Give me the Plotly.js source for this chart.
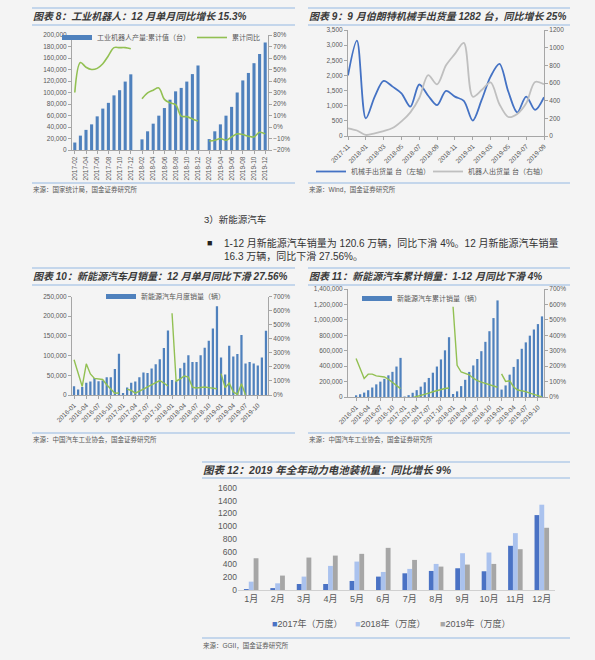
<!DOCTYPE html>
<html><head><meta charset="utf-8">
<script src="https://cdn.plot.ly/plotly-3.0.1.min.js"></script>
<style>html,body{margin:0;padding:0;background:#f4f4f4;}#chart{width:595px;height:660px;}</style>
</head><body><div id="chart"></div>
<script>
// ---------- Chart 8: industrial robots ----------
const robotMonths = ['2017-02','2017-03','2017-04','2017-05','2017-06','2017-07','2017-08','2017-09','2017-10','2017-11','2017-12',
  '2018-01','2018-02','2018-03','2018-04','2018-05','2018-06','2018-07','2018-08','2018-09','2018-10','2018-11','2018-12',
  '2019-01','2019-02','2019-03','2019-04','2019-05','2019-06','2019-07','2019-08','2019-09','2019-10','2019-11','2019-12'];
const robotCum = [13000,25000,35000,44600,58500,72000,82000,95000,104000,119000,131600,
  null,18500,32500,45800,59700,73000,87500,102000,108000,119000,132000,147000,
  null,19000,32500,44600,59700,75000,100000,121000,134000,151000,167000,187000];
const robotYoY = [30,56,52,50,51,55,62,69,69,69,68,
  null,24.6,29.6,32,34,24,21,19.5,9.5,9,7,5.2,
  null,-12.2,-11.5,-10,-11.5,-8.6,-6,-6.6,-8,-8.6,-4.6,-6];
const robotTicks = ['2017-02','2017-04','2017-06','2017-08','2017-10','2017-12','2018-02','2018-04','2018-06','2018-08','2018-10','2018-12','2019-02','2019-04','2019-06','2019-08','2019-10','2019-12'];

// ---------- Chart 9: Borunte ----------
const bltMonths = ['2017-11','2017-12','2018-01','2018-02','2018-03','2018-04','2018-05','2018-06','2018-07','2018-08','2018-09','2018-10','2018-11','2018-12',
  '2019-01','2019-02','2019-03','2019-04','2019-05','2019-06','2019-07','2019-08','2019-09'];
const bltArm = [2000,3150,580,1300,1820,1630,1410,970,1700,1330,1020,1490,1300,1160,510,1190,1960,2380,1460,780,1300,860,1282];
const bltRobot = [87,62,12,30,55,90,165,268,430,690,585,800,930,1055,445,520,607,360,215,250,370,612,585];
const bltTicks = ['2017-11','2018-01','2018-03','2018-05','2018-07','2018-09','2018-11','2019-01','2019-03','2019-05','2019-07','2019-09'];

// ---------- Chart 10 / 11: NEV ----------
const nevMonths = ['2016-01','2016-02','2016-03','2016-04','2016-05','2016-06','2016-07','2016-08','2016-09','2016-10','2016-11','2016-12',
  '2017-01','2017-02','2017-03','2017-04','2017-05','2017-06','2017-07','2017-08','2017-09','2017-10','2017-11','2017-12',
  '2018-01','2018-02','2018-03','2018-04','2018-05','2018-06','2018-07','2018-08','2018-09','2018-10','2018-11','2018-12',
  '2019-01','2019-02','2019-03','2019-04','2019-05','2019-06','2019-07','2019-08','2019-09','2019-10','2019-11','2019-12'];
const nevTicks = ['2016-01','2016-04','2016-07','2016-10','2017-01','2017-04','2017-07','2017-10','2018-01','2018-04','2018-07','2018-10','2019-01','2019-04','2019-07','2019-10'];
const nevMonthly = [22000,14000,20000,31000,34000,43000,35000,37000,45000,45000,66000,105000,
  5000,19000,31000,34000,45000,57000,56000,67000,78000,91000,119000,164000,
  38000,35000,68000,82000,101000,84000,84000,101000,120000,138000,169000,225000,
  95000,52000,125000,98000,104000,152000,80000,84000,80000,75000,95000,163000];
const nevMonthlyYoY2016 = [250,156,61,222,150,118,114,110,73,40,12,14];
const nevMonthlyYoY2017 = [null,42,32,13,30,42,57,72,83,103,85,64];
const nevMonthlyYoY2018 = [581,98,115,135,127,55,50,52,57,52,46,44];
const nevMonthlyYoY2019 = [152,52,85,22,4,80,0,null,null,null,null,null];

const nevCumMonths = nevMonths.slice(0,47);
const nevCum = [22000,36000,57000,88000,123000,164000,199000,235000,281000,326000,395000,507000,
  6000,24000,55000,89000,134000,191000,247000,315000,395000,487000,605000,775000,
  39000,73000,141000,223000,325000,409000,493000,594000,715000,853000,1023000,1252000,
  96000,150000,290000,390000,490000,625000,708000,795000,875000,945000,1045000];
const nevCumYoY2016 = [250,185,120,148,148,137,135,130,115,93,76,54];
const nevCumYoY2017 = [-73,-33,-4,2,9,17,25,34,42,50,55,58];
const nevCumYoY2018 = [585,205,162,154,144,122,106,96,88,81,72,63];
const nevCumYoY2019 = [150,101,105,65,45,40,35,25,17,8,1];

// ---------- Chart 12: battery installs ----------
const batMonths = ['1月','2月','3月','4月','5月','6月','7月','8月','9月','10月','11月','12月'];
const batSeries = ['2017年（万度）','2018年（万度）','2019年（万度）'];
const bat2017 = [15,30,94,94,142,210,262,299,341,294,693,1175];
const bat2018 = [131,105,210,378,446,283,331,409,577,588,892,1338];
const bat2019 = [498,226,509,540,567,661,472,367,399,409,640,976];

// ---------- layout helpers ----------
const W = 595, H = 660;
const fx = p => p / W, fy = p => 1 - p / H;
const FONT = 'Liberation Sans, Noto Sans CJK SC, sans-serif';
const BLUE = '#4f81bd', GREEN = '#92c052', TXT = '#595959', AX = '#a6a6a6';
const BAT_COLORS = ['#4a72c4', '#aac2ee', '#a6a6a6'];
const tf = {size: 6.5, color: TXT, family: FONT};
function ax(extra) {
  return Object.assign({showgrid:false, zeroline:false, showline:true, linecolor:AX, linewidth:1,
    ticks:'outside', ticklen:3, tickcolor:AX, tickfont:tf, automargin:false, fixedrange:true}, extra);
}
// legend-only entry (draws no mark) so the legend glyph is a thick bar like the reference
function legendBar(name, legend, xa, ya) {
  return {type:'scatter', mode:'lines', x:[null], y:[null], xaxis:xa, yaxis:ya, line:{color:BLUE, width:5}, name:name, legend:legend, hoverinfo:'skip'};
}

const traces = [
  // chart 8
  {type:'bar', x:robotMonths, y:robotCum, xaxis:'x', yaxis:'y', marker:{color:BLUE}, name:'工业机器人产量:累计值（台）', showlegend:false},
  legendBar('工业机器人产量:累计值（台）', 'legend', 'x', 'y'),
  {type:'scatter', mode:'lines', x:robotMonths, y:robotYoY, xaxis:'x', yaxis:'y2', line:{color:GREEN, width:1.6, shape:'spline'}, connectgaps:false, name:'累计同比', legend:'legend'},
  // chart 9
  {type:'scatter', mode:'lines', x:bltMonths, y:bltArm, xaxis:'x2', yaxis:'y3', line:{color:'#4472c4', width:1.8, shape:'spline', smoothing:0.9}, name:'机械手出货量 台（左轴）', legend:'legend2'},
  {type:'scatter', mode:'lines', x:bltMonths, y:bltRobot, xaxis:'x2', yaxis:'y4', line:{color:'#bfbfbf', width:1.8, shape:'spline', smoothing:0.9}, name:'机器人出货量 台（右轴）', legend:'legend2'},
  // chart 10
  {type:'bar', x:nevMonths, y:nevMonthly, xaxis:'x3', yaxis:'y5', marker:{color:BLUE}, name:'新能源汽车月度销量（辆）', showlegend:false},
  legendBar('新能源汽车月度销量（辆）', 'legend3', 'x3', 'y5'),
  {type:'scatter', mode:'lines', x:nevMonths.slice(0,12), y:nevMonthlyYoY2016, xaxis:'x3', yaxis:'y6', line:{color:GREEN, width:1.4}, showlegend:false},
  {type:'scatter', mode:'lines', x:nevMonths.slice(12,24), y:nevMonthlyYoY2017, xaxis:'x3', yaxis:'y6', line:{color:GREEN, width:1.4}, showlegend:false},
  {type:'scatter', mode:'lines', x:nevMonths.slice(24,36), y:nevMonthlyYoY2018, xaxis:'x3', yaxis:'y6', line:{color:GREEN, width:1.4}, showlegend:false},
  {type:'scatter', mode:'lines', x:nevMonths.slice(36,48), y:nevMonthlyYoY2019, xaxis:'x3', yaxis:'y6', line:{color:GREEN, width:1.4}, showlegend:false},
  // chart 11
  {type:'bar', x:nevCumMonths, y:nevCum, xaxis:'x4', yaxis:'y7', marker:{color:BLUE}, name:'新能源汽车累计销量（辆）', showlegend:false},
  legendBar('新能源汽车累计销量（辆）', 'legend4', 'x4', 'y7'),
  {type:'scatter', mode:'lines', x:nevCumMonths.slice(0,12), y:nevCumYoY2016, xaxis:'x4', yaxis:'y8', line:{color:GREEN, width:1.4}, showlegend:false},
  {type:'scatter', mode:'lines', x:nevCumMonths.slice(12,24), y:nevCumYoY2017, xaxis:'x4', yaxis:'y8', line:{color:GREEN, width:1.4}, showlegend:false},
  {type:'scatter', mode:'lines', x:nevCumMonths.slice(24,36), y:nevCumYoY2018, xaxis:'x4', yaxis:'y8', line:{color:GREEN, width:1.4}, showlegend:false},
  {type:'scatter', mode:'lines', x:nevCumMonths.slice(36,47), y:nevCumYoY2019, xaxis:'x4', yaxis:'y8', line:{color:GREEN, width:1.4}, showlegend:false},
  // chart 12
  {type:'bar', x:batMonths, y:bat2017, xaxis:'x5', yaxis:'y9', marker:{color:BAT_COLORS[0]}, name:batSeries[0], showlegend:false},
  {type:'bar', x:batMonths, y:bat2018, xaxis:'x5', yaxis:'y9', marker:{color:BAT_COLORS[1]}, name:batSeries[1], showlegend:false},
  {type:'bar', x:batMonths, y:bat2019, xaxis:'x5', yaxis:'y9', marker:{color:BAT_COLORS[2]}, name:batSeries[2], showlegend:false}
];

const titleLine = '#b4cde8';
const shapes = [];
function hline(x0, x1, y) { shapes.push({type:'line', xref:'paper', yref:'paper', x0:fx(x0), x1:fx(x1), y0:fy(y), y1:fy(y), line:{color:titleLine, width:1.6}}); }
[[32,295],[308,570]].forEach(([a,b]) => { hline(a,b,8); hline(a,b,25); hline(a,b,183); hline(a,b,268); hline(a,b,285); hline(a,b,433); });
hline(202,570,462); hline(202,570,478); hline(202,570,638);

const annotations = [];
function txt(x, y, text, size, color, extra) {
  annotations.push(Object.assign({xref:'paper', yref:'paper', x:fx(x), y:fy(y), xanchor:'left', yanchor:'middle', showarrow:false,
    text:text, font:{size:size, color:color, family:FONT}}, extra || {}));
}
const TT = '#3a3a3a';
txt(31, 16.5, '<b><i>图表 8：工业机器人：12 月单月同比增长 15.3%</i></b>', 10, TT);
txt(307, 16.5, '<b><i>图表 9：9 月伯朗特机械手出货量 1282 台，同比增长 25%</i></b>', 10, TT);
txt(31, 276.5, '<b><i>图表 10：新能源汽车月销量：12 月单月同比下滑 27.56%</i></b>', 10, TT);
txt(307, 276.5, '<b><i>图表 11：新能源汽车累计销量：1-12 月同比下滑 4%</i></b>', 10, TT);
txt(201, 470, '<b><i>图表 12：2019 年全年动力电池装机量：同比增长 9%</i></b>', 10.5, TT);
txt(31, 189.5, '来源：国家统计局，国金证券研究所', 6.5, TXT);
txt(307, 189.5, '来源：Wind，国金证券研究所', 6.5, TXT);
txt(31, 439.5, '来源：中国汽车工业协会，国金证券研究所', 6.5, TXT);
txt(307, 439.5, '来源：中国汽车工业协会，国金证券研究所', 6.5, TXT);
txt(201, 645, '来源：GGII，国金证券研究所', 6.5, TXT);
txt(202, 220, '3）新能源汽车', 9.5, '#333');
txt(205, 243, '■', 9, '#222');
txt(222, 243, '1-12 月新能源汽车销量为 120.6 万辆，同比下滑 4%。12 月新能源汽车销量', 10, '#333');
txt(222, 256, '16.3 万辆，同比下滑 27.56%。', 10, '#333');
// chart 12 legend (colour key for the three series)
[270, 353, 438].forEach((x, i) => txt(x, 623, '<span style="color:' + BAT_COLORS[i] + '">■</span>' + batSeries[i], 9, TXT));

const legBase = {orientation:'h', xanchor:'left', yanchor:'top', bgcolor:'rgba(0,0,0,0)', font:{size:7, color:TXT, family:FONT}, itemwidth:30, tracegroupgap:0};

const layout = {
  width:W, height:H, margin:{l:0, r:0, t:0, b:0},
  paper_bgcolor:'#f4f4f4', plot_bgcolor:'rgba(0,0,0,0)',
  font:{family:FONT}, barmode:'group', bargap:0.45, showlegend:true,
  // chart 8
  xaxis: ax({domain:[fx(72), fx(268)], anchor:'y', type:'category', range:[-0.5, robotMonths.length-0.5], tickvals:robotTicks, tickangle:-90}),
  yaxis: ax({domain:[fy(150), fy(35)], anchor:'x', range:[0,200000], dtick:20000, tickformat:','}),
  yaxis2: ax({overlaying:'y', side:'right', anchor:'x', range:[-20,80], dtick:10, ticksuffix:'%'}),
  // chart 9
  xaxis2: ax({domain:[fx(348), fx(544)], anchor:'y3', type:'category', range:[0, bltMonths.length-1], tickvals:bltTicks, tickangle:-45}),
  yaxis3: ax({domain:[fy(136), fy(30)], anchor:'x2', range:[0,3500], dtick:500, tickformat:','}),
  yaxis4: ax({overlaying:'y3', side:'right', anchor:'x2', range:[0,1200], dtick:200}),
  // chart 10
  xaxis3: ax({domain:[fx(72), fx(268)], anchor:'y5', type:'category', range:[-0.5, nevMonths.length-0.5], tickvals:nevTicks, tickangle:-45}),
  yaxis5: ax({domain:[fy(395), fy(296.5)], anchor:'x3', range:[0,250000], dtick:50000, tickformat:','}),
  yaxis6: ax({overlaying:'y5', side:'right', anchor:'x3', range:[0,700], dtick:100, ticksuffix:'%'}),
  // chart 11
  xaxis4: ax({domain:[fx(348), fx(544)], anchor:'y7', type:'category', range:[-2, nevCumMonths.length-0.5], tickvals:nevTicks, tickangle:-45}),
  yaxis7: ax({domain:[fy(397), fy(289)], anchor:'x4', range:[0,1400000], dtick:200000, tickformat:','}),
  yaxis8: ax({overlaying:'y7', side:'right', anchor:'x4', range:[0,700], dtick:100, ticksuffix:'%'}),
  // chart 12
  xaxis5: ax({domain:[fx(238), fx(555)], anchor:'y9', type:'category', linecolor:'#d0d0d0', ticks:'', tickfont:{size:9, color:TXT, family:FONT}}),
  yaxis9: ax({domain:[fy(590), fy(488)], anchor:'x5', range:[0,1600], dtick:200, showline:false, ticks:'', tickfont:{size:8.5, color:TXT, family:FONT}}),
  legend: Object.assign({}, legBase, {x:fx(57), y:fy(23), entrywidth:90}),
  legend2: Object.assign({}, legBase, {x:fx(311), y:fy(157), entrywidth:72}),
  legend3: Object.assign({}, legBase, {x:fx(101), y:fy(282)}),
  legend4: Object.assign({}, legBase, {x:fx(357), y:fy(284)}),
  shapes: shapes, annotations: annotations
};

Plotly.newPlot('chart', traces, layout, {displayModeBar:false, staticPlot:true});
</script></body></html>
